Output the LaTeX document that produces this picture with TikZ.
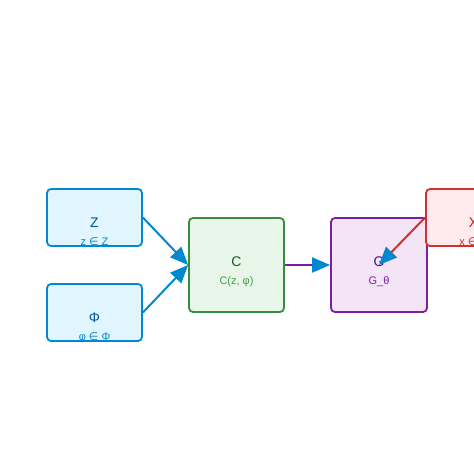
\documentclass[tikz,border=0pt]{standalone}
\usepackage{fontspec}
\setmainfont{Liberation Sans}
\newfontfamily\symfont{DejaVu Sans}
\usetikzlibrary{arrows.meta}
\definecolor{bluefill}{HTML}{E1F5FE}
\definecolor{bluedraw}{HTML}{0288D1}
\definecolor{bluetext}{HTML}{01579B}
\definecolor{bluesub}{HTML}{0288D1}
\definecolor{greenfill}{HTML}{E8F5E9}
\definecolor{greendraw}{HTML}{388E3C}
\definecolor{greentext}{HTML}{1B5E20}
\definecolor{greensub}{HTML}{43A047}
\definecolor{purplefill}{HTML}{F3E5F5}
\definecolor{purpledraw}{HTML}{7B1FA2}
\definecolor{purpletext}{HTML}{4A148C}
\definecolor{purplesub}{HTML}{7B1FA2}
\definecolor{redfill}{HTML}{FFEBEE}
\definecolor{reddraw}{HTML}{D32F2F}
\definecolor{redtext}{HTML}{B71C1C}
\definecolor{redsub}{HTML}{D32F2F}
\newcommand{\elemof}{{\symfont ∈}}
\tikzset{
  box/.style={draw, line width=1.8bp, rounded corners=4bp, inner sep=0pt},
  mainlbl/.style={anchor=base, inner sep=0pt, font=\fontsize{14}{16}\selectfont},
  sublbl/.style={anchor=base, inner sep=0pt, font=\fontsize{11}{13}\selectfont},
  conn/.style={line width=2bp, -{Triangle[length=18bp,width=15bp,color=bluedraw]}}
}
\begin{document}
\begin{tikzpicture}[x=1bp,y=-1bp]
\useasboundingbox (0,0) rectangle (474,474);
\clip (0,0) rectangle (474,474);
% boxes
\node[box, fill=bluefill, draw=bluedraw, minimum width=95bp, minimum height=57bp] (Z) at (94.5,217.5) {};
\node[box, fill=bluefill, draw=bluedraw, minimum width=95bp, minimum height=57bp] (P) at (94.5,312.5) {};
\node[box, fill=greenfill, draw=greendraw, minimum width=95bp, minimum height=94bp] (C) at (236.5,265) {};
\node[box, fill=purplefill, draw=purpledraw, minimum width=96bp, minimum height=94bp] (G) at (379,265) {};
\node[box, fill=redfill, draw=reddraw, minimum width=95bp, minimum height=57bp] (X) at (473.5,217.5) {};
% labels
\node[mainlbl, text=bluetext] (Zl) at (94.5,227.5) {Z};
\node[sublbl, text=bluesub] (Zs) at (94.5,245) {z \elemof{} Z};
\node[mainlbl, text=bluetext] (Pl) at (94.5,322.5) {Φ};
\node[sublbl, text=bluesub] (Ps) at (94.5,340) {φ \elemof{} Φ};
\node[mainlbl, text=greentext] (Cl) at (236.5,266) {C};
\node[sublbl, text=greensub] (Cs) at (236.5,284.5) {C(z, φ)};
\node[mainlbl, text=purpletext] (Gl) at (379,266) {G};
\node[sublbl, text=purplesub] (Gs) at (379,284.5) {G\_θ};
\node[mainlbl, text=redtext] (Xl) at (473.5,227.5) {X};
\node[sublbl, text=redsub] (Xs) at (473.5,245) {x \elemof{} X};
% connectors
\draw[conn, draw=bluedraw] (Z.east) -- (C.west);
\draw[conn, draw=bluedraw] (P.east) -- (C.west);
\draw[conn, draw=purpledraw] (C.east) -- (G.west);
\draw[conn, draw=reddraw] (X.west) -- (G.center);
\end{tikzpicture}
\end{document}
